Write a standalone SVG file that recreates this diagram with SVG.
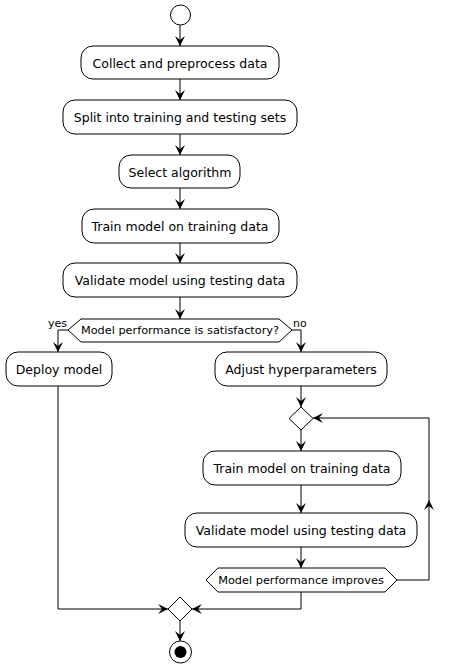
<svg xmlns="http://www.w3.org/2000/svg" width="449" height="668" viewBox="0 0 449 668">
<defs>
<marker id="ah" viewBox="0 0 10 10" refX="10" refY="5" markerWidth="10" markerHeight="10" markerUnits="userSpaceOnUse" orient="auto">
<path d="M0,0 L10,5 L0,10 L4,5 Z" fill="#000"/>
</marker>
</defs>
<style>
.box{fill:#fff;stroke:#000;stroke-width:1}
.t{font-family:"DejaVu Sans",sans-serif;font-size:12.5px;fill:#000;text-anchor:middle}
.s{font-family:"DejaVu Sans",sans-serif;font-size:11.3px;fill:#000;text-anchor:middle}
.l{font-family:"DejaVu Sans",sans-serif;font-size:11px;fill:#000}
.c{fill:none;stroke:#000;stroke-width:1;marker-end:url(#ah)}
</style>
<rect width="449" height="668" fill="#fff"/>
<g id="connectors">
<path class="c" d="M180,25 V46"/>
<path class="c" d="M180,79 V100"/>
<path class="c" d="M180,134 V155"/>
<path class="c" d="M180,188 V209"/>
<path class="c" d="M180,243 V263"/>
<path class="c" d="M180,297 V319"/>
<path class="c" d="M68,330 H58 V352"/>
<path class="c" d="M292,330 H301 V352"/>
<path class="c" d="M301,386 V407"/>
<path class="c" d="M301,430 V451"/>
<path class="c" d="M301,485 V513"/>
<path class="c" d="M301,547 V568"/>
<path class="c" d="M397,580 H429 V500"/>
<path class="c" d="M429,500 V418 H313"/>
<path class="c" d="M301,592 V609 H192"/>
<path class="c" d="M58,386 V609 H168"/>
<path class="c" d="M180,621 V641"/>
</g>
<g id="start"><circle cx="180.5" cy="15" r="10" class="box"/></g>
<g id="collect"><rect class="box" x="81" y="46" width="198" height="33" rx="12"/><text class="t" x="180" y="67.5">Collect and preprocess data</text></g>
<g id="split"><rect class="box" x="63" y="100" width="234" height="34" rx="12"/><text class="t" x="180" y="121.5">Split into training and testing sets</text></g>
<g id="select"><rect class="box" x="119" y="155" width="121" height="33" rx="12"/><text class="t" x="180" y="176.5">Select algorithm</text></g>
<g id="train1"><rect class="box" x="82" y="209" width="197" height="34" rx="12"/><text class="t" x="180" y="230.5">Train model on training data</text></g>
<g id="validate1"><rect class="box" x="63" y="263" width="234" height="34" rx="12"/><text class="t" x="180" y="284.5">Validate model using testing data</text></g>
<g id="decision1"><polygon class="box" points="68,330 81,319 279,319 292,330 279,342 81,342"/><text class="s" x="180" y="334">Model performance is satisfactory?</text></g>
<g id="labels"><text class="l" x="48" y="327">yes</text><text class="l" x="293" y="327">no</text></g>
<g id="deploy"><rect class="box" x="6" y="352" width="106" height="34" rx="12"/><text class="t" x="59" y="373.5">Deploy model</text></g>
<g id="adjust"><rect class="box" x="215" y="352" width="172" height="34" rx="12"/><text class="t" x="301" y="373.5">Adjust hyperparameters</text></g>
<g id="merge1"><polygon class="box" points="301,407 313,418.5 301,430 289,418.5"/></g>
<g id="train2"><rect class="box" x="203" y="451" width="198" height="34" rx="12"/><text class="t" x="302" y="472.5">Train model on training data</text></g>
<g id="validate2"><rect class="box" x="185" y="513" width="232" height="34" rx="12"/><text class="t" x="301" y="534.5">Validate model using testing data</text></g>
<g id="decision2"><polygon class="box" points="206,580 218,568 385,568 397,580 385,592 218,592"/><text class="s" x="301" y="584">Model performance improves</text></g>
<g id="merge2"><polygon class="box" points="180,597 192,609 180,621 168,609"/></g>
<g id="end"><circle cx="180.5" cy="652" r="11" class="box"/><circle cx="180.5" cy="652" r="6" fill="#000"/></g>
</svg>
